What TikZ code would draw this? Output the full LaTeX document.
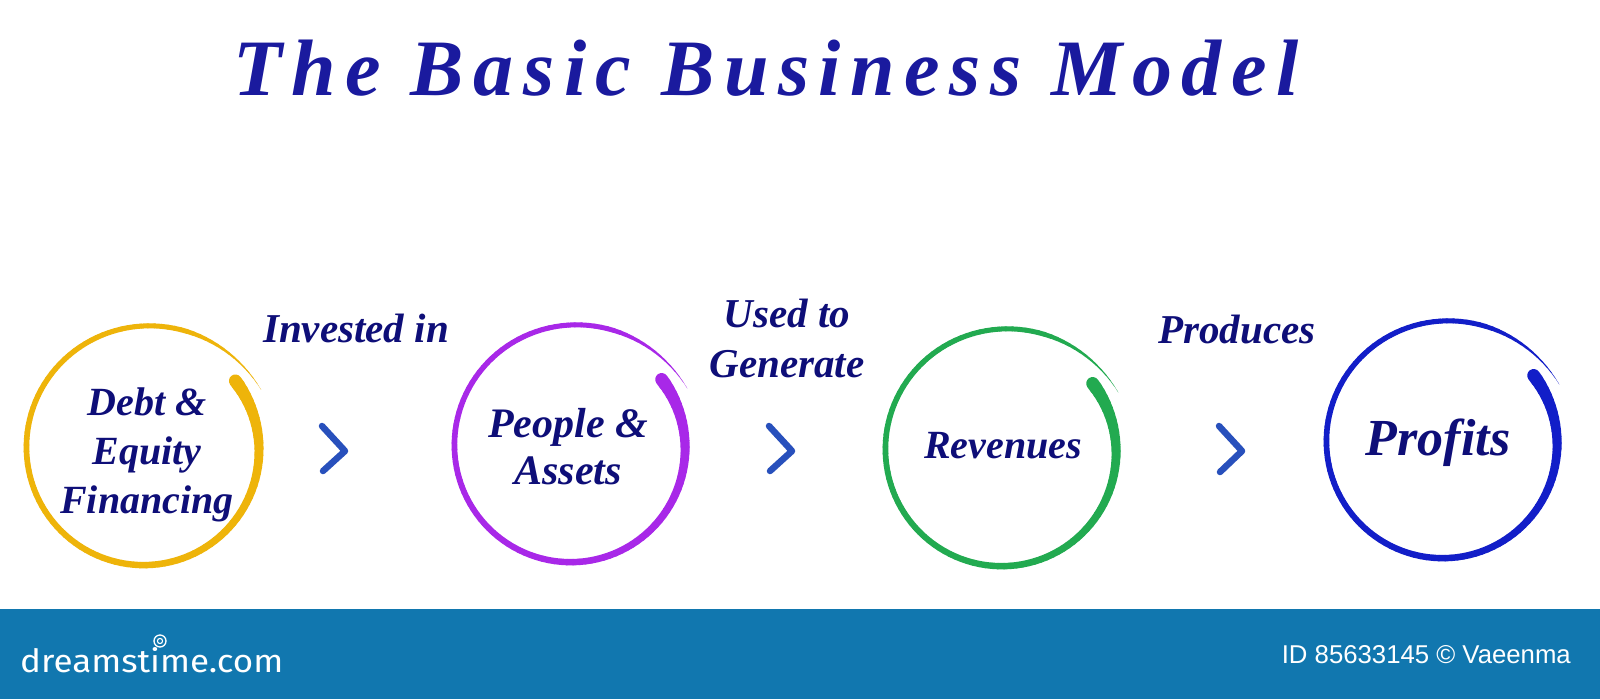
\documentclass[tikz,border=0pt]{standalone}
\usepackage{fontspec}
\usepackage{graphicx}
\setmainfont{Liberation Serif}
\newfontfamily\titlefont[LetterSpace=12]{Liberation Serif}
\newfontfamily\logofont{Fira Sans}
\newfontfamily\idfont{Liberation Sans}
\definecolor{titleblue}{RGB}{26,26,158}
\definecolor{textnavy}{RGB}{14,14,120}
\definecolor{ringyellow}{RGB}{238,180,10}
\definecolor{ringpurple}{RGB}{168,40,232}
\definecolor{ringgreen}{RGB}{34,170,80}
\definecolor{ringblue}{RGB}{18,30,200}
\definecolor{chevblue}{RGB}{40,80,188}
\definecolor{barblue}{RGB}{17,119,175}
\newcommand\brushring[2]{%
  \foreach \i in {0,...,119}{%
    \pgfmathsetmacro\ta{\i/120}%
    \pgfmathsetmacro\tb{(\i+1)/120}%
    \pgfmathsetmacro\pa{37-370*\ta}%
    \pgfmathsetmacro\pb{37-370*\tb}%
    \pgfmathsetmacro\ra{#1*(0.92+0.07*\ta+0.07*(\ta^6))}%
    \pgfmathsetmacro\rb{#1*(0.92+0.07*\tb+0.07*(\tb^6))}%
    \pgfmathsetmacro\tm{(\ta+\tb)/2}%
    \pgfmathsetmacro\w{(4.6+2.5*(1-\tm)+6*exp(-10*\tm))*min(1,(1-\tm)/0.12)}%
    \draw[color=#2, line width=\w pt, line cap=round]
      ({\ra*cos(\pa)},{-\ra*sin(\pa)}) -- ({\rb*cos(\pb)},{-\rb*sin(\pb)});
  }%
}
\tikzset{
  ringtext/.style={font=\bfseries\itshape\fontsize{40}{49}\selectfont, text=textnavy, align=center, inner sep=0pt},
  lbl/.style={font=\bfseries\itshape\fontsize{41}{50}\selectfont, text=textnavy, align=center, inner sep=0pt},
  chev/.style={draw=chevblue, line width=6.5pt, line cap=round, line join=round},
}
\begin{document}
\begin{tikzpicture}[x=1pt,y=-1pt]
\path[use as bounding box, fill=white] (0,0) rectangle (1600,699);
% title
\node[anchor=base west, inner sep=0pt, text=titleblue, font=\titlefont\bfseries\itshape\fontsize{80}{84}\selectfont] (title) at (233,95) {The Basic Business Model};
% circle texts
\node[ringtext] (debt) at (147,455) {Debt \&\\Equity\\Financing};
\node[ringtext, font=\bfseries\itshape\fontsize{42}{47}\selectfont] (people) at (568,447) {People \&\\Assets};
\node[ringtext, anchor=base] (rev) at (1003,458) {Revenues};
\node[ringtext, anchor=base, font=\bfseries\itshape\fontsize{52}{56}\selectfont] (profit) at (1438,455) {Profits};
% rings
\coordinate (c1) at (145,449);
\coordinate (c2) at (572,447);
\coordinate (c3) at (1003,451);
\coordinate (c4) at (1444,443);
\begin{scope}[shift={(c1)}]\brushring{123}{ringyellow}\end{scope}
\begin{scope}[shift={(c2)}]\brushring{122}{ringpurple}\end{scope}
\begin{scope}[shift={(c3)}]\brushring{122}{ringgreen}\end{scope}
\begin{scope}[shift={(c4)}]\brushring{122}{ringblue}\end{scope}
% labels
\node[lbl, anchor=base] (inv) at (356,342) {Invested in};
\node[lbl] (used) at (787,338) {Used to\\Generate};
\node[lbl, anchor=base] (prod) at (1237,343) {Produces};
% chevrons
\coordinate (k1) at (345,451);
\coordinate (k2) at (792,451);
\coordinate (k3) at (1242,451);
\draw[chev] (k1) ++(-23,-25) -- (k1) -- ++(-22,20);
\draw[chev] (k2) ++(-23,-25) -- (k2) -- ++(-22,20);
\draw[chev] (k3) ++(-23,-25) -- (k3) -- ++(-22,21);
% bottom bar
\fill[barblue] (0,609) rectangle (1600,699);
\node[anchor=base west, inner sep=0pt, text=white] (logo) at (20,672) {\resizebox{263pt}{25pt}{\logofont\fontsize{36}{40}\selectfont dreamstime.com}};
\coordinate (sp) at (160,641);
\draw[white, line width=1.3pt] (sp) circle[radius=6];
\draw[white, line width=1.1pt] (sp) circle[radius=2.6];
\node[anchor=base east, inner sep=0pt, text=white] (id) at (1571,663) {\resizebox{289pt}{18pt}{\idfont\fontsize{26}{30}\selectfont ID 85633145 © Vaeenma}};
\end{tikzpicture}
\end{document}
